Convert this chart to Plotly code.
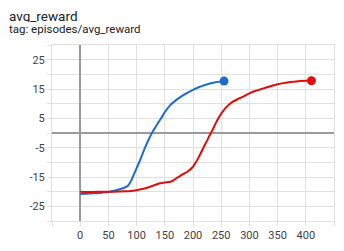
import plotly.graph_objects as go

blue_x = [0, 10, 20, 30, 40, 50, 60, 70, 80, 85, 90, 95, 100, 105, 110, 115, 120, 125, 130, 135,
          140, 145, 150, 160, 170, 180, 190, 200, 210, 220, 230, 240, 250, 255]
blue_y = [-20.8, -20.7, -20.6, -20.5, -20.3, -20.1, -19.7, -19.2, -18.5, -17.9, -16.4, -14.2,
          -12.0, -9.8, -7.4, -5.0, -2.8, -0.8, 0.9, 2.5, 4.0, 5.5, 7.1, 9.6, 11.2, 12.6, 13.7,
          14.7, 15.6, 16.3, 16.9, 17.3, 17.6, 17.7]

red_x = [0, 20, 40, 60, 80, 90, 100, 110, 120, 130, 140, 150, 160, 165, 170, 175, 180, 190,
         200, 205, 210, 215, 220, 225, 230, 235, 240, 245, 250, 255, 260, 270, 280, 290, 300,
         310, 320, 330, 340, 350, 360, 370, 380, 390, 400, 410]
red_y = [-20.0, -20.1, -20.0, -20.0, -19.9, -19.8, -19.5, -19.1, -18.6, -17.9, -17.2, -16.9,
         -16.6, -16.2, -15.5, -14.9, -14.3, -13.2, -11.5, -10.0, -8.3, -6.4, -4.4, -2.6, -0.6,
         1.2, 3.2, 5.0, 6.6, 7.9, 9.0, 10.6, 11.6, 12.5, 13.5, 14.3, 14.9, 15.5, 16.1, 16.6,
         17.0, 17.3, 17.5, 17.7, 17.8, 17.8]

x_ticks = [0, 50, 100, 150, 200, 250, 300, 350, 400]
y_ticks = [-25, -15, -5, 5, 15, 25]

title_text = "avg_reward"
subtitle_text = "tag: episodes/avg_reward"

BLUE = "#1a6dcc"
RED = "#e00d0d"
GRID = "#e0e0e0"
ZERO = "#9a9a9a"
FONT = "Roboto"

fig = go.Figure()
for xs, ys, c in [(blue_x, blue_y, BLUE), (red_x, red_y, RED)]:
    fig.add_trace(go.Scatter(x=xs, y=ys, mode="lines",
                             line=dict(color=c, width=2, shape="spline", smoothing=0.6),
                             hoverinfo="skip"))
    fig.add_trace(go.Scatter(x=[xs[-1]], y=[ys[-1]], mode="markers",
                             marker=dict(color=c, size=9), hoverinfo="skip"))

axis_common = dict(
    showgrid=True, gridcolor=GRID, gridwidth=1,
    showline=True, linecolor=GRID, linewidth=1, mirror=True,
    ticks="outside", ticklen=4, tickcolor=GRID, tickwidth=1,
    zeroline=True, zerolinecolor=ZERO, zerolinewidth=1.5,
    tickfont=dict(family=FONT, size=11, color="#424242"),
    fixedrange=True,
)

fig.update_xaxes(range=[-50, 450], tickmode="array", tickvals=x_ticks,
                 ticktext=[str(v) for v in x_ticks],
                 minor=dict(tick0=0, dtick=50, ticks="outside", ticklen=4,
                            tickcolor=GRID, showgrid=True, gridcolor=GRID),
                 **axis_common)
fig.update_yaxes(range=[-30, 30], tickmode="array", tickvals=y_ticks,
                 ticktext=[str(v) for v in y_ticks],
                 minor=dict(tick0=0, dtick=5, ticks="outside", ticklen=4,
                            tickcolor=GRID, showgrid=True, gridcolor=GRID),
                 **axis_common)

fig.add_annotation(text=title_text, xref="paper", yref="paper",
                   x=-0.159, y=1.17, xanchor="left", yanchor="middle", height=13,
                   showarrow=False, font=dict(family=FONT, size=13.5, color="#212121"))
fig.add_annotation(text=subtitle_text, xref="paper", yref="paper",
                   x=-0.159, y=1.093, xanchor="left", yanchor="middle", height=12,
                   showarrow=False, font=dict(family=FONT, size=11.5, color="#212121"))

fig.update_layout(
    width=344, height=251,
    margin=dict(l=52, r=9, t=45, b=28),
    plot_bgcolor="white", paper_bgcolor="white",
    showlegend=False,
    font=dict(family=FONT),
)

fig.write_html("out.html", config={"displayModeBar": False})
